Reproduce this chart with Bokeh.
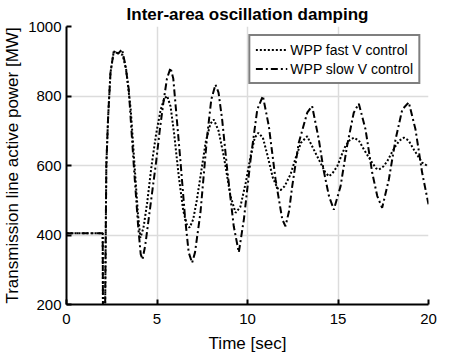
from bokeh.plotting import figure
from bokeh.models import Range1d, Legend, LegendItem, FixedTicker
from bokeh.embed import file_html
from bokeh.resources import INLINE

# WPP fast V control (dotted)
t_fast = [0, 2.0, 2.02, 2.12, 2.2, 2.3, 2.43, 2.61, 2.85, 3.1, 3.3, 3.55, 3.8, 3.95, 4.08,
          4.25, 4.45, 4.7, 4.95, 5.2, 5.4, 5.56, 5.75, 5.95, 6.2, 6.45, 6.65, 6.8, 7.0, 7.2,
          7.45, 7.7, 7.95, 8.14, 8.4, 8.69, 9.06, 9.34, 9.6, 9.9, 10.17, 10.4, 10.6, 10.85,
          11.1, 11.4, 11.65, 11.82, 12.05, 12.38, 12.65, 12.95, 13.3, 13.66, 14.03, 14.3,
          14.5, 14.7, 14.96, 15.2, 15.41, 15.65, 15.87, 16.15, 16.43, 16.89, 17.1, 17.26,
          17.5, 17.72, 17.95, 18.18, 18.4, 18.64, 18.9, 19.19, 19.65, 20]
p_fast = [405, 405, 100, 100, 600, 740, 867, 928, 924, 918, 875, 760, 570, 460, 392,
          420, 490, 600, 690, 760, 792, 800, 770, 690, 570, 470, 430, 421, 445, 500,
          585, 670, 720, 732, 700, 627, 512, 464, 480, 550, 627, 680, 694, 680,
          630, 565, 535, 529, 540, 575, 620, 665, 684, 646, 608, 580,
          569, 578, 598, 630, 656, 673, 680, 672, 646, 608, 592, 588,
          597, 612, 635, 656, 672, 680, 672, 646, 608, 597]

# WPP slow V control (dash-dot)
t_slow = [0, 2.0, 2.02, 2.12, 2.2, 2.3, 2.43, 2.61, 2.85, 3.07, 3.25, 3.44, 3.72, 3.96,
          4.1, 4.2, 4.35, 4.55, 4.75, 4.95, 5.15, 5.35, 5.55, 5.75, 5.9, 6.05, 6.3, 6.55,
          6.75, 6.94, 7.1, 7.4, 7.77, 8.0, 8.23, 8.4, 8.6, 8.88, 9.24, 9.52, 9.8, 10.17,
          10.54, 10.85, 11.18, 11.55, 11.92, 12.1, 12.3, 12.47, 12.83, 13.3, 13.57, 13.94,
          14.2, 14.5, 14.77, 15.14, 15.5, 15.87, 16.15, 16.52, 16.89, 17.17, 17.44, 17.81,
          18.18, 18.55, 18.91, 19.28, 19.65, 20]
p_slow = [405, 405, 100, 100, 600, 740, 867, 929, 922, 934, 890, 819, 598, 425,
          345, 330, 370, 450, 530, 610, 700, 780, 850, 881, 850, 760, 610, 450,
          350, 320, 350, 464, 684, 790, 833, 810, 732, 588, 425, 350, 445, 617,
          761, 800, 713, 560, 445, 425, 470, 540, 665, 752, 771, 675,
          588, 512, 473, 540, 656, 752, 778, 704, 579, 512, 478, 560,
          675, 761, 782, 704, 579, 488]

x_ticks = [0, 5, 10, 15, 20]
y_ticks = [200, 400, 600, 800, 1000]
labels = ["WPP fast V control", "WPP slow V control"]

FONT = "Liberation Sans"

p = figure(width=474, height=355, output_backend="svg", toolbar_location=None,
           x_range=Range1d(0, 20), y_range=Range1d(200, 1000),
           min_border_left=66, min_border_right=46, min_border_bottom=50, min_border_top=0,
           title="Inter-area oscillation damping")
p.title.text_font = FONT
p.title.text_font_size = "17px"
p.title.text_font_style = "bold"
p.title.align = "center"
p.title.text_color = "black"
p.title.standoff = 5
p.outline_line_color = None
p.background_fill_color = "white"
p.border_fill_color = "white"

for ax in (p.xaxis[0], p.yaxis[0]):
    ax.axis_line_width = 2
    ax.axis_line_color = "black"
    ax.major_tick_in = 5
    ax.major_tick_out = 0
    ax.major_tick_line_width = 2
    ax.major_tick_line_color = "black"
    ax.minor_tick_line_color = None
    ax.major_label_text_font = FONT
    ax.major_label_text_font_size = "15px"
    ax.major_label_text_color = "black"
    ax.axis_label_text_font = FONT
    ax.axis_label_text_font_size = "17px"
    ax.axis_label_text_font_style = "normal"
    ax.axis_label_text_color = "black"

p.xaxis.ticker = FixedTicker(ticks=x_ticks)
p.yaxis.ticker = FixedTicker(ticks=y_ticks)
p.xaxis.axis_label = "Time [sec]"
p.yaxis.axis_label = "Transmission line active power [MW]"
p.xaxis.major_label_standoff = 9
p.xaxis.axis_label_standoff = 7
p.yaxis.major_label_standoff = 5
p.yaxis.axis_label_standoff = 3

p.xgrid.ticker = FixedTicker(ticks=x_ticks)
p.ygrid.ticker = FixedTicker(ticks=y_ticks)
for g in (p.xgrid[0], p.ygrid[0]):
    g.grid_line_color = "#dcdcdc"
    g.grid_line_width = 1.5

r_fast = p.line(t_fast, p_fast, line_color="black", line_width=2, line_dash="2 2")
r_slow = p.line(t_slow, p_slow, line_color="black", line_width=2, line_dash="7 3 2 3")

legend = Legend(items=[LegendItem(label=labels[0], renderers=[r_fast]),
                       LegendItem(label=labels[1], renderers=[r_slow])],
                location="top_right")
legend.label_text_font = FONT
legend.label_text_font_size = "14px"
legend.label_text_color = "black"
legend.glyph_width = 32
legend.glyph_height = 17
legend.label_height = 17
legend.label_standoff = 3
legend.spacing = 2
legend.padding = 5
legend.margin = 8
legend.border_line_color = "black"
legend.border_line_width = 2
legend.background_fill_alpha = 1
p.add_layout(legend)

open("out.html", "w").write(file_html(p, INLINE))
